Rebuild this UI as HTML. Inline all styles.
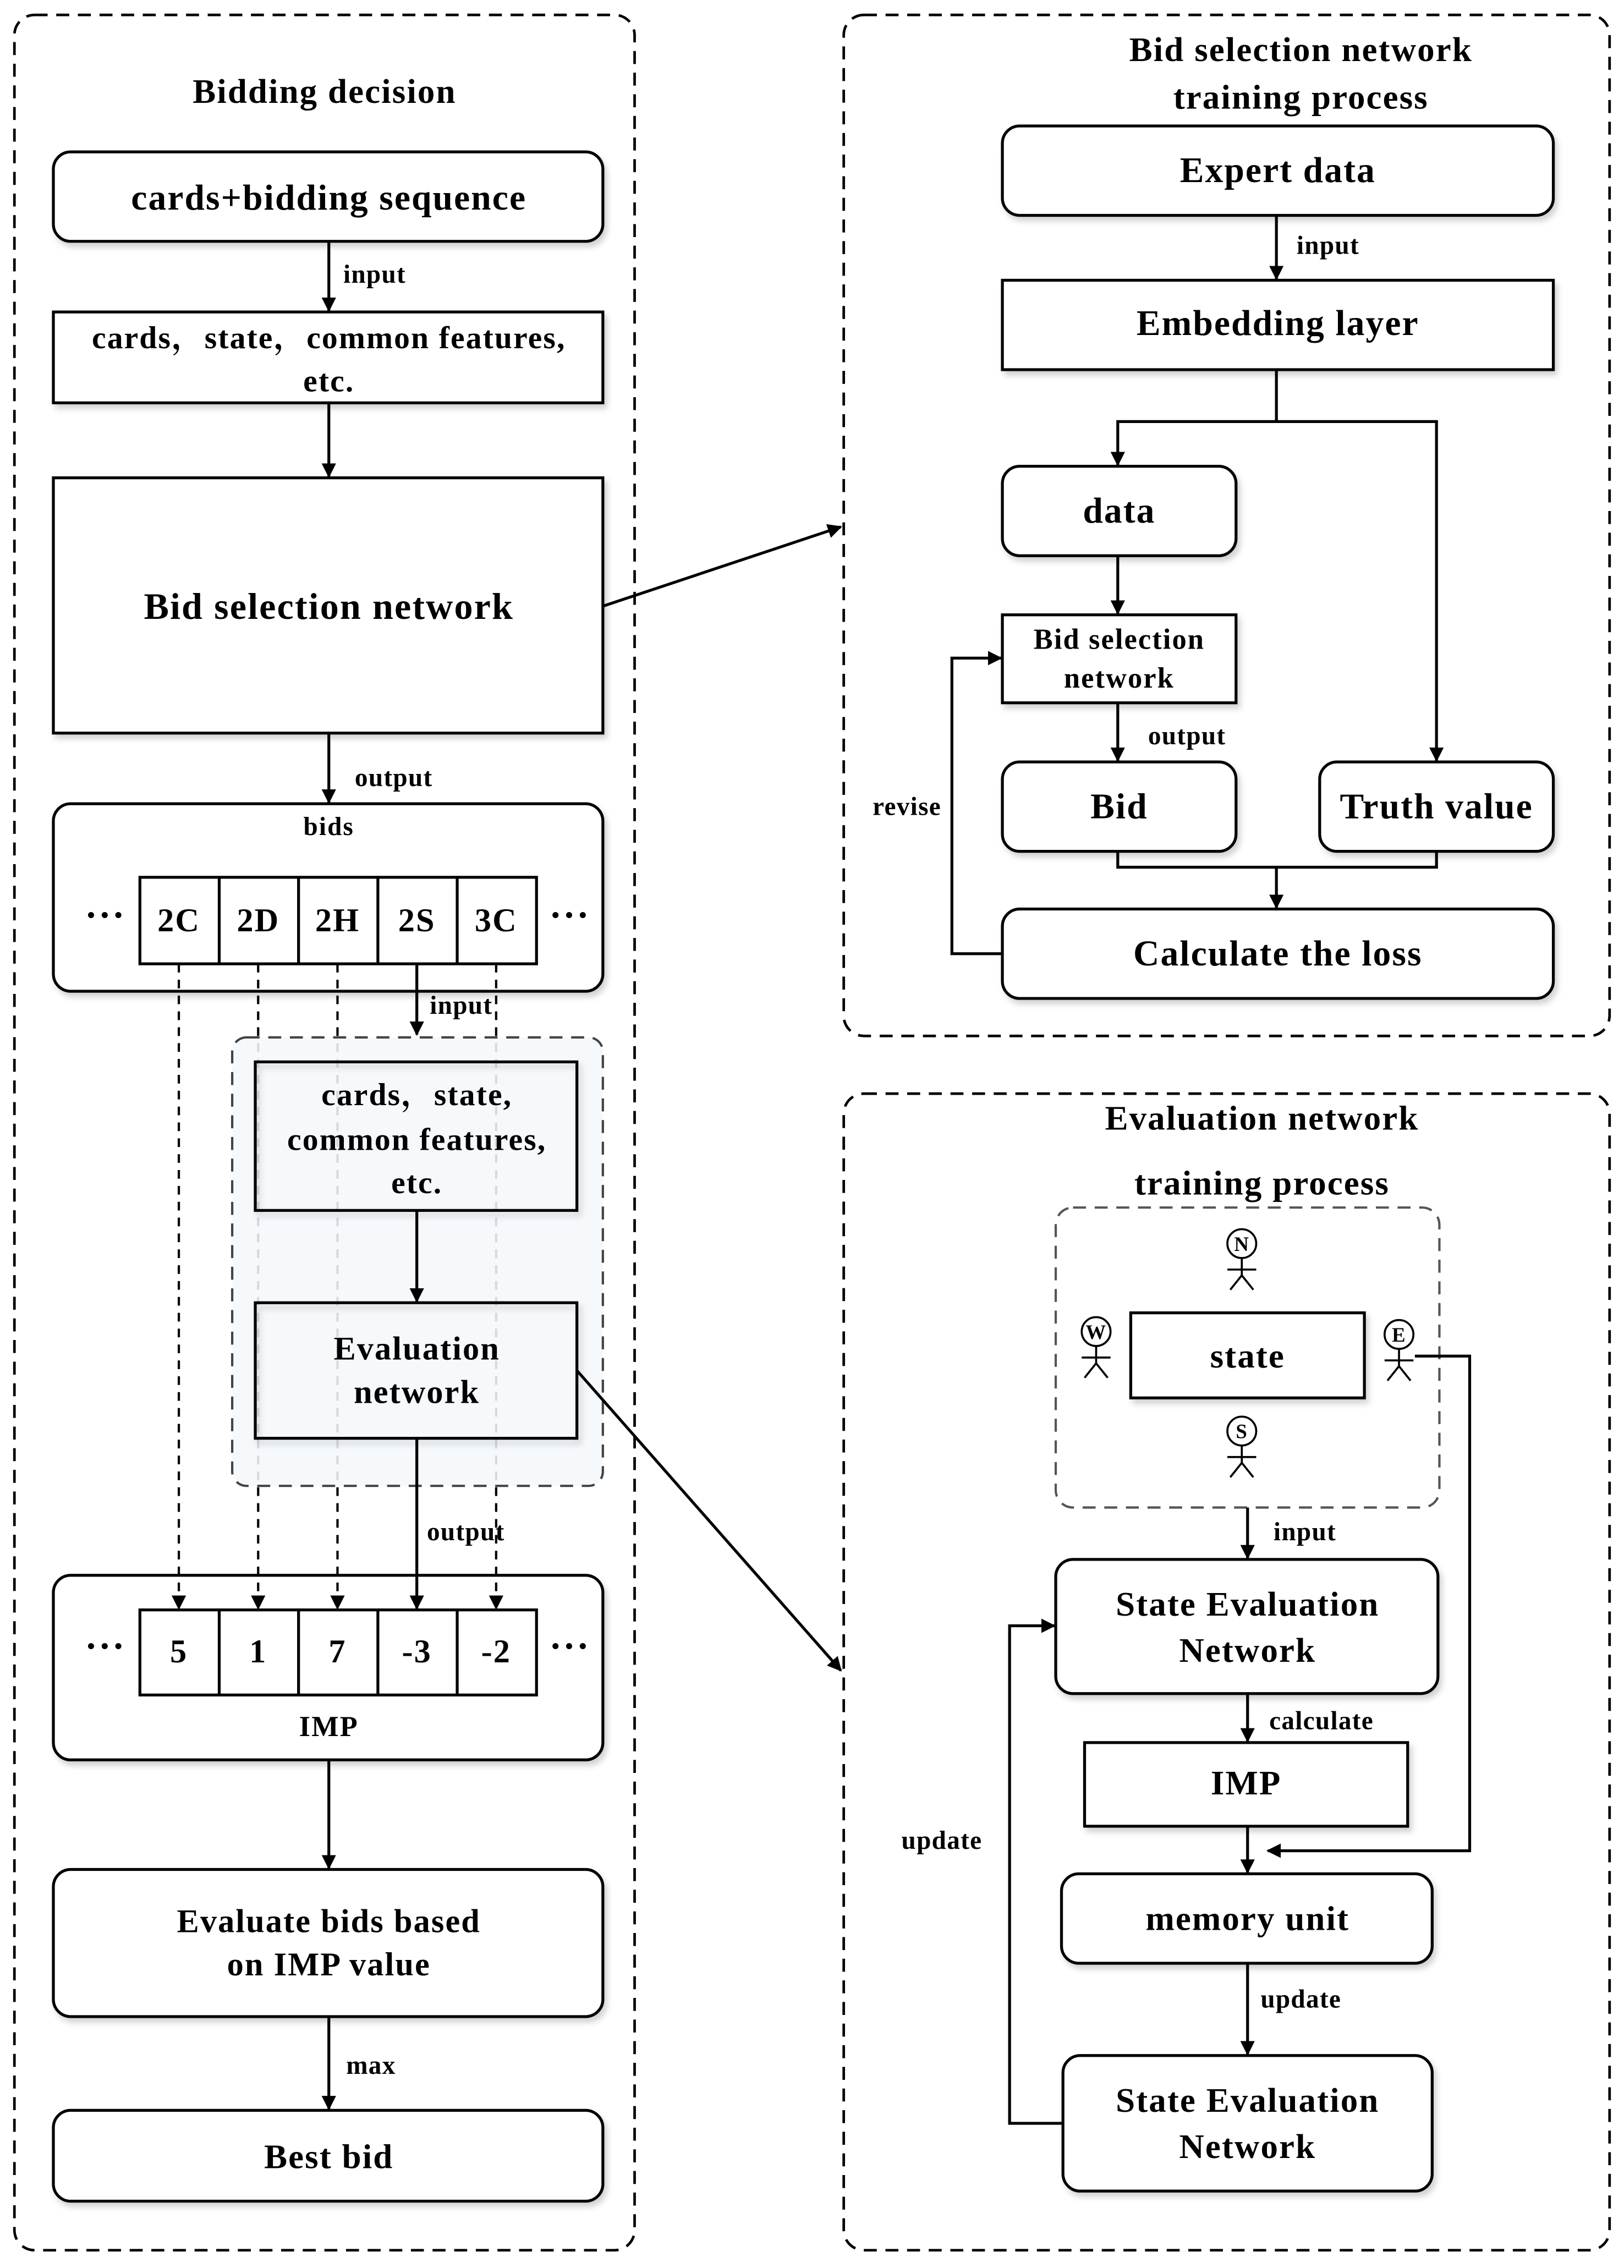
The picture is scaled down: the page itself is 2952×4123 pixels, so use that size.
<!DOCTYPE html>
<html><head><meta charset="utf-8">
<style>
html,body{margin:0;padding:0;background:#fff;}
svg{display:block;}
text{font-family:"Liberation Serif","Noto Serif CJK SC",serif;font-weight:bold;fill:#000;letter-spacing:0.8px;}
.sm text{letter-spacing:0.5px;}
</style></head>
<body>
<svg width="2952" height="4123" viewBox="0 0 1126 1572" xmlns="http://www.w3.org/2000/svg">
<defs>
<marker id="a" markerWidth="10" markerHeight="10" refX="9" refY="5" orient="auto" markerUnits="userSpaceOnUse">
<path d="M0,0 L10,5 L0,10 Z" fill="#000"/></marker>
<filter id="sh" x="-5%" y="-5%" width="115%" height="130%"><feDropShadow dx="2" dy="3" stdDeviation="2" flood-color="#000" flood-opacity="0.18"/></filter>
</defs>
<rect width="1126" height="1572" fill="#fff"/>
<g fill="none" stroke="#000" stroke-width="1.8" stroke-dasharray="9,6">
<rect x="10" y="10" width="430" height="1550" rx="14"/>
<rect x="585" y="10" width="531" height="708" rx="14"/>
<rect x="585" y="758" width="531" height="802" rx="14"/>
</g>
<g fill="#fff" stroke="#000" stroke-width="2" filter="url(#sh)">
<rect x="37" y="557" width="381" height="130" rx="12"/>
<rect x="37" y="1092" width="381" height="128" rx="12"/>
</g>
<!-- dashed arrows (under panel) -->
<g stroke="#000" stroke-width="1.6" stroke-dasharray="6,5" fill="none" marker-end="url(#a)">
<line x1="124" y1="668" x2="124" y2="1115"/>
<line x1="179" y1="668" x2="179" y2="1115"/>
<line x1="234" y1="668" x2="234" y2="1115"/>
<line x1="344" y1="668" x2="344" y2="1115"/>
</g>
<rect x="161" y="719" width="257" height="311" rx="10" fill="#f4f8fc" fill-opacity="0.88" stroke="#444" stroke-width="1.6" stroke-dasharray="9,6"/>
<rect x="732" y="837" width="266" height="208" rx="12" fill="#fff" stroke="#555" stroke-width="1.6" stroke-dasharray="9,6"/>

<g fill="#fff" stroke="#000" stroke-width="2" filter="url(#sh)">
<rect x="37" y="105" width="381" height="62" rx="12"/>
<rect x="37" y="216" width="381" height="63"/>
<rect x="37" y="331" width="381" height="177"/>
<rect x="177" y="736" width="223" height="103" fill="none"/>
<rect x="177" y="903" width="223" height="94" fill="none"/>
<rect x="37" y="1296" width="381" height="102" rx="12"/>
<rect x="37" y="1463" width="381" height="63" rx="12"/>
<rect x="695" y="87" width="382" height="62" rx="12"/>
<rect x="695" y="194" width="382" height="62"/>
<rect x="695" y="323" width="162" height="62" rx="12"/>
<rect x="695" y="426" width="162" height="61"/>
<rect x="695" y="528" width="162" height="62" rx="12"/>
<rect x="915" y="528" width="162" height="62" rx="12"/>
<rect x="695" y="630" width="382" height="62" rx="12"/>
<rect x="784" y="910" width="162" height="59"/>
<rect x="732" y="1081" width="265" height="93" rx="12"/>
<rect x="752" y="1208" width="224" height="58"/>
<rect x="736" y="1299" width="257" height="62" rx="12"/>
<rect x="737" y="1425" width="256" height="94" rx="12"/>
</g>
<!-- cells -->
<g fill="#fff" stroke="#000" stroke-width="2">
<rect x="97" y="608" width="275" height="60"/>
<rect x="97" y="1116" width="275" height="59"/>
</g>
<g stroke="#000" stroke-width="2">
<line x1="152" y1="608" x2="152" y2="668"/><line x1="207" y1="608" x2="207" y2="668"/><line x1="262" y1="608" x2="262" y2="668"/><line x1="317" y1="608" x2="317" y2="668"/>
<line x1="152" y1="1116" x2="152" y2="1175"/><line x1="207" y1="1116" x2="207" y2="1175"/><line x1="262" y1="1116" x2="262" y2="1175"/><line x1="317" y1="1116" x2="317" y2="1175"/>
</g>
<!-- solid arrows -->
<g stroke="#000" stroke-width="2" fill="none" marker-end="url(#a)">
<line x1="228" y1="167" x2="228" y2="215"/>
<line x1="228" y1="279" x2="228" y2="330"/>
<line x1="228" y1="508" x2="228" y2="556"/>
<line x1="289" y1="668" x2="289" y2="717"/>
<line x1="289" y1="839" x2="289" y2="902"/>
<line x1="289" y1="997" x2="289" y2="1115"/>
<line x1="228" y1="1220" x2="228" y2="1295"/>
<line x1="228" y1="1398" x2="228" y2="1462"/>
<line x1="418" y1="420" x2="583" y2="365"/>
<line x1="400" y1="950" x2="583" y2="1158"/>
<line x1="885" y1="149" x2="885" y2="193"/>
<polyline points="885,256 885,292 775,292 775,322"/>
<polyline points="885,292 996,292 996,527"/>
<line x1="775" y1="385" x2="775" y2="425"/>
<line x1="775" y1="487" x2="775" y2="527"/>
<polyline points="885,601 885,629"/>
<polyline points="695,661 660,661 660,456 694,456"/>
<line x1="865" y1="1045" x2="865" y2="1080"/>
<line x1="865" y1="1174" x2="865" y2="1207"/>
<line x1="865" y1="1266" x2="865" y2="1298"/>
<line x1="865" y1="1361" x2="865" y2="1424"/>
<polyline points="981,940 1019,940 1019,1283 879,1283"/>
<polyline points="737,1472 700,1472 700,1127 731,1127"/>
</g>
<polyline points="775,590 775,601 996,601 996,590" fill="none" stroke="#000" stroke-width="2"/>
<!-- stick figures -->
<g fill="none" stroke="#000" stroke-width="1.4">
<g transform="translate(861,862)"><circle cx="0" cy="0" r="10"/><line x1="0" y1="10" x2="0" y2="22"/><line x1="-10" y1="18" x2="10" y2="18"/><line x1="0" y1="22" x2="-8" y2="32"/><line x1="0" y1="22" x2="8" y2="32"/></g>
<g transform="translate(760,923)"><circle cx="0" cy="0" r="10"/><line x1="0" y1="10" x2="0" y2="22"/><line x1="-10" y1="18" x2="10" y2="18"/><line x1="0" y1="22" x2="-8" y2="32"/><line x1="0" y1="22" x2="8" y2="32"/></g>
<g transform="translate(970,925)"><circle cx="0" cy="0" r="10"/><line x1="0" y1="10" x2="0" y2="22"/><line x1="-10" y1="18" x2="10" y2="18"/><line x1="0" y1="22" x2="-8" y2="32"/><line x1="0" y1="22" x2="8" y2="32"/></g>
<g transform="translate(861,992)"><circle cx="0" cy="0" r="10"/><line x1="0" y1="10" x2="0" y2="22"/><line x1="-10" y1="18" x2="10" y2="18"/><line x1="0" y1="22" x2="-8" y2="32"/><line x1="0" y1="22" x2="8" y2="32"/></g>
</g>
<g font-size="14" text-anchor="middle" class="sm">
<text x="861" y="867">N</text><text x="760" y="928">W</text><text x="970" y="930">E</text><text x="861" y="997">S</text>
</g>
<!-- texts -->
<g text-anchor="middle" dominant-baseline="central">
<text x="225" y="63" font-size="24">Bidding decision</text>
<text x="228" y="137" font-size="25">cards+bidding sequence</text>
<text x="228" y="234" font-size="22">cards，state，common features,</text>
<text x="228" y="264" font-size="22">etc.</text>
<text x="228" y="420" font-size="26">Bid selection network</text>
<text x="228" y="573" font-size="18">bids</text>
<text x="124" y="638" font-size="23">2C</text><text x="179" y="638" font-size="23">2D</text><text x="234" y="638" font-size="23">2H</text><text x="289" y="638" font-size="23">2S</text><text x="344" y="638" font-size="23">3C</text>
<text x="73" y="634" font-size="26">···</text><text x="395" y="634" font-size="26">···</text>
<text x="289" y="759" font-size="22">cards，state,</text>
<text x="289" y="790" font-size="22">common features,</text>
<text x="289" y="820" font-size="22">etc.</text>
<text x="289" y="935" font-size="23">Evaluation</text>
<text x="289" y="965" font-size="23">network</text>
<text x="124" y="1145" font-size="23">5</text><text x="179" y="1145" font-size="23">1</text><text x="234" y="1145" font-size="23">7</text><text x="289" y="1145" font-size="23">-3</text><text x="344" y="1145" font-size="23">-2</text>
<text x="73" y="1141" font-size="26">···</text><text x="395" y="1141" font-size="26">···</text>
<text x="228" y="1197" font-size="20">IMP</text>
<text x="228" y="1332" font-size="23">Evaluate bids based</text>
<text x="228" y="1362" font-size="23">on IMP value</text>
<text x="228" y="1495" font-size="24">Best bid</text>
<text x="902" y="34" font-size="24">Bid selection network</text>
<text x="902" y="67" font-size="24">training process</text>
<text x="886" y="118" font-size="25">Expert data</text>
<text x="886" y="224" font-size="25">Embedding layer</text>
<text x="776" y="354" font-size="25">data</text>
<text x="776" y="443" font-size="20">Bid selection</text>
<text x="776" y="470" font-size="20">network</text>
<text x="776" y="559" font-size="25">Bid</text>
<text x="996" y="559" font-size="25">Truth value</text>
<text x="886" y="661" font-size="25">Calculate the loss</text>
<text x="875" y="775" font-size="24">Evaluation network</text>
<text x="875" y="820" font-size="24">training process</text>
<text x="865" y="940" font-size="24">state</text>
<text x="865" y="1112" font-size="24">State Evaluation</text>
<text x="865" y="1144" font-size="24">Network</text>
<text x="864" y="1236" font-size="24">IMP</text>
<text x="865" y="1330" font-size="24">memory unit</text>
<text x="865" y="1456" font-size="24">State Evaluation</text>
<text x="865" y="1488" font-size="24">Network</text>
</g>
<g font-size="18" dominant-baseline="central" class="sm">
<text x="238" y="190">input</text>
<text x="246" y="539">output</text>
<text x="298" y="697">input</text>
<text x="296" y="1062">output</text>
<text x="240" y="1432">max</text>
<text x="899" y="170">input</text>
<text x="796" y="510">output</text>
<text x="605" y="559">revise</text>
<text x="883" y="1062">input</text>
<text x="880" y="1193">calculate</text>
<text x="874" y="1386">update</text>
<text x="625" y="1276">update</text>
</g>
</svg>
</body></html>
